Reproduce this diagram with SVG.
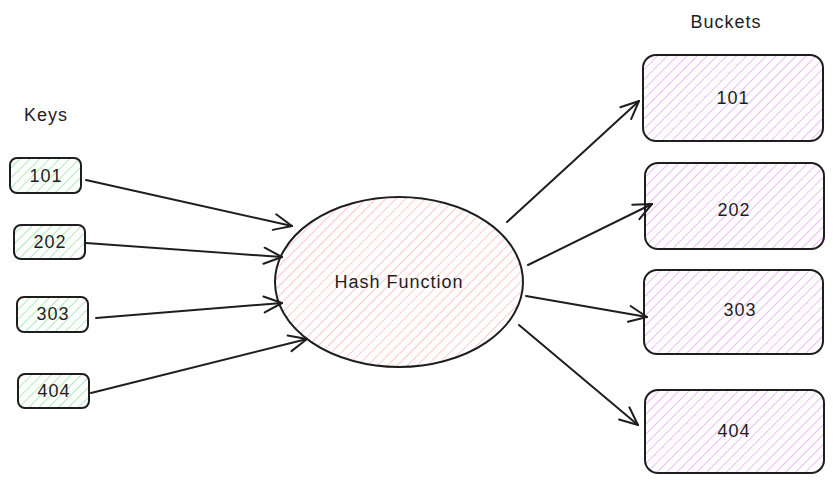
<svg xmlns="http://www.w3.org/2000/svg" width="834" height="484" viewBox="0 0 834 484">
<defs>
<pattern id="hg" width="7" height="7" patternUnits="userSpaceOnUse" patternTransform="rotate(45)"><line x1="0" y1="0" x2="0" y2="7" stroke="#a5eab0" stroke-width="1.8"/></pattern>
<pattern id="hp" width="7" height="7" patternUnits="userSpaceOnUse" patternTransform="rotate(45)"><line x1="0" y1="0" x2="0" y2="7" stroke="#ffc2c2" stroke-width="1.8"/></pattern>
<pattern id="hv" width="7" height="7" patternUnits="userSpaceOnUse" patternTransform="rotate(45)"><line x1="0" y1="0" x2="0" y2="7" stroke="#ebb6f8" stroke-width="1.8"/></pattern>
<marker id="ah" markerUnits="userSpaceOnUse" markerWidth="24" markerHeight="24" refX="20" refY="10" orient="auto" viewBox="0 0 24 20"><path d="M2,2 L20,10 L2,18" fill="none" stroke="#1e1e1e" stroke-width="2" stroke-linecap="round" stroke-linejoin="round"/></marker>
</defs>
<style>
.box{stroke:#1e1e1e;stroke-width:2}
.k{fill:url(#hg)}
.b{fill:url(#hv)}
.t{font-family:"Liberation Sans",Arial,sans-serif;font-size:18px;letter-spacing:1px;fill:#1e1e1e;text-anchor:middle;dominant-baseline:central}
.c{stroke:#1e1e1e;stroke-width:2;fill:none;marker-end:url(#ah);stroke-linecap:round}
</style>
<text class="t" x="46" y="115">Keys</text>
<text class="t" x="726" y="22">Buckets</text>
<g id="key101"><rect class="box k" x="10" y="158" width="71" height="35" rx="7"/><text class="t" x="46" y="176">101</text></g>
<g id="key202"><rect class="box k" x="14" y="225" width="71" height="34" rx="7"/><text class="t" x="50" y="242">202</text></g>
<g id="key303"><rect class="box k" x="17" y="297" width="71" height="35" rx="7"/><text class="t" x="53" y="314">303</text></g>
<g id="key404"><rect class="box k" x="18" y="374" width="71" height="34" rx="7"/><text class="t" x="54" y="391">404</text></g>
<g id="hash"><ellipse class="box" cx="399" cy="282" rx="124" ry="85" fill="url(#hp)"/><text class="t" x="399" y="282">Hash Function</text></g>
<g id="b101"><rect class="box b" x="643" y="55" width="180" height="86" rx="13"/><text class="t" x="733" y="98">101</text></g>
<g id="b202"><rect class="box b" x="645" y="163" width="179" height="86" rx="13"/><text class="t" x="734" y="210">202</text></g>
<g id="b303"><rect class="box b" x="644" y="270" width="179" height="84" rx="13"/><text class="t" x="740" y="310">303</text></g>
<g id="b404"><rect class="box b" x="645" y="390" width="179" height="83" rx="13"/><text class="t" x="734" y="431">404</text></g>
<g id="connectors">
<line class="c" x1="86" y1="180" x2="292" y2="226"/>
<line class="c" x1="86" y1="243" x2="282" y2="257"/>
<line class="c" x1="96" y1="318" x2="282" y2="303"/>
<line class="c" x1="91" y1="393" x2="307" y2="339"/>
<line class="c" x1="507" y1="222" x2="639" y2="101"/>
<line class="c" x1="528" y1="265" x2="652" y2="204"/>
<line class="c" x1="526" y1="296" x2="647" y2="317"/>
<line class="c" x1="519" y1="325" x2="638" y2="425"/>
</g>
</svg>
